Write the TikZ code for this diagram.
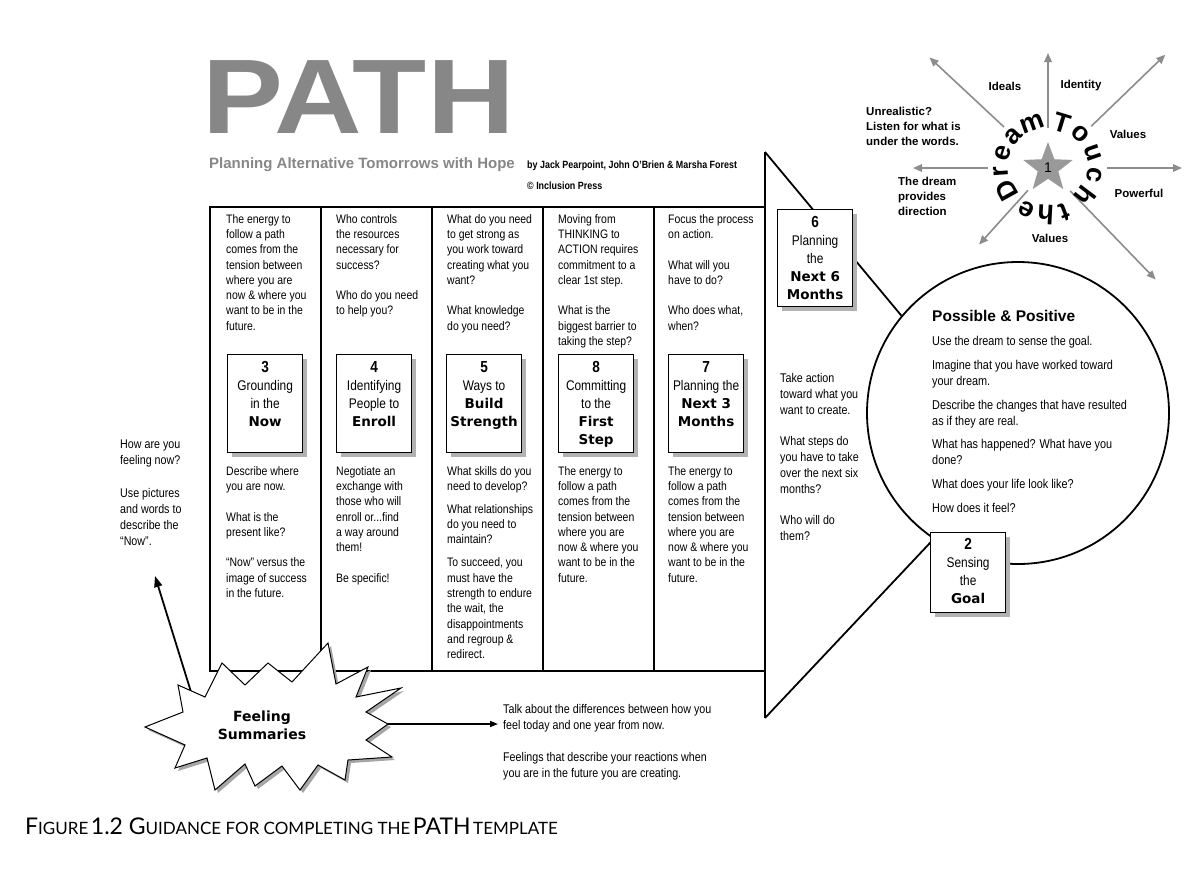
\documentclass[tikz,border=0pt]{standalone}
\usepackage{fontspec}
\setmainfont{Liberation Sans}
\newfontfamily\pthNar[FakeStretch=0.85]{Liberation Sans}
\newfontfamily\pthHeavy{DejaVu Sans}
\newfontfamily\pthCap{Lato}
\usetikzlibrary{arrows.meta,shapes.geometric,shadows}
\newcommand\pthNum{\pthNar\bfseries\fontsize{16}{18}\selectfont}
\newcommand\pthBig{\pthHeavy\bfseries\fontsize{13.5}{18}\selectfont}
\newcommand\pthCB[1]{{\fontsize{23}{23}\selectfont #1}}
\newcommand\pthCS[1]{{\fontsize{17}{23}\selectfont #1}}
\begin{document}
\begin{tikzpicture}[x=1pt,y=-1pt,
  colt/.style={anchor=north west, inner sep=0pt, align=left, font=\pthNar\fontsize{12.3}{15.3}\selectfont},
  sidet/.style={anchor=north west, inner sep=0pt, align=left, font=\pthNar\fontsize{12.6}{16}\selectfont},
  stepbox/.style={draw, line width=1.2pt, fill=white, minimum width=75pt, minimum height=98pt, inner sep=0pt, anchor=north west,
     drop shadow={shadow xshift=4pt, shadow yshift=-4pt, fill=black!30, opacity=1}},
  boxt/.style={anchor=north, inner sep=0pt, align=center, font=\pthNar\fontsize{14}{18}\selectfont},
  ray/.style={draw=black!45, line width=1.6pt, -{Triangle[length=9pt,width=7.5pt]}},
  dlab/.style={font=\bfseries\fontsize{11.5}{15}\selectfont, inner sep=0pt, align=left},
  dletter/.style={font=\bfseries\fontsize{27}{27}\selectfont, inner sep=0pt},
  frame/.style={line width=2pt},
  gtitle/.style={text=black!47, inner sep=0pt, anchor=base west}]
\path[use as bounding box, fill=white] (0,0) rectangle (1200,881);

% ---------- title ----------
\node[gtitle, font=\bfseries\fontsize{106}{106}\selectfont, xscale=1.145] (title) at (202,133) {PATH};
\node[gtitle, font=\bfseries\fontsize{15}{15}\selectfont] (sub) at (209,168) {Planning Alternative Tomorrows with Hope};
\node[anchor=base west, inner sep=0pt, font=\pthNar\bfseries\fontsize{10.5}{12}\selectfont] (auth) at (527,168) {by Jack Pearpoint, John O’Brien \& Marsha Forest};
\node[anchor=base west, inner sep=0pt, font=\pthNar\bfseries\fontsize{10.5}{12}\selectfont] (press) at (527,189) {© Inclusion Press};

% ---------- triangle ----------
\coordinate (apT) at (765,152);
\coordinate (apB) at (765,718);
\coordinate (upEnd) at (905,320);
\coordinate (loEnd) at (945,527);
\draw[frame] (apT) -- (apB);
\draw[line width=1.8pt] (apT) -- (upEnd);
\draw[line width=1.8pt] (apB) -- (loEnd);

% ---------- frame and columns ----------
\coordinate (fTL) at (210,207);
\coordinate (fBL) at (210,671);
\coordinate (fTR) at (765,207);
\coordinate (fBR) at (765,671);
\draw[frame] (fTR) -- (fTL) -- (fBL) -- (fBR);
\foreach \x [count=\i] in {321,432,543,654}{
  \coordinate (sT\i) at (\x,207);
  \coordinate (sB\i) at (\x,671);
  \draw[frame] (sT\i) -- (sB\i);
}

% top texts
\node[colt] (c1t) at (226,214) {The energy to\\follow a path\\comes from the\\tension between\\where you are\\now \& where you\\want to be in the\\future.};
\node[colt] (c2t) at (336,214) {Who controls\\the resources\\necessary for\\success?\\[15.3pt]Who do you need\\to help you?};
\node[colt] (c3t) at (447,214) {What do you need\\to get strong as\\you work toward\\creating what you\\want?\\[15.3pt]What knowledge\\do you need?};
\node[colt] (c4t) at (558,214) {Moving from\\THINKING to\\ACTION requires\\commitment to a\\clear 1st step.\\[15.3pt]What is the\\biggest barrier to\\taking the step?};
\node[colt] (c5t) at (668,214) {Focus the process\\on action.\\[15.3pt]What will you\\have to do?\\[15.3pt]Who does what,\\when?};

% bottom texts
\node[colt] (c1b) at (226,466) {Describe where\\you are now.\\[15.3pt]What is the\\present like?\\[15.3pt]“Now” versus the\\image of success\\in the future.};
\node[colt] (c2b) at (336,466) {Negotiate an\\exchange with\\those who will\\enroll or...find\\a way around\\them!\\[15.3pt]Be specific!};
\node[colt] (c3b) at (447,466) {What skills do you\\need to develop?\\[7.6pt]What relationships\\do you need to\\maintain?\\[7.6pt]To succeed, you\\must have the\\strength to endure\\the wait, the\\disappointments\\and regroup \&\\redirect.};
\node[colt] (c4b) at (558,466) {The energy to\\follow a path\\comes from the\\tension between\\where you are\\now \& where you\\want to be in the\\future.};
\node[colt] (c5b) at (668,466) {The energy to\\follow a path\\comes from the\\tension between\\where you are\\now \& where you\\want to be in the\\future.};

% step boxes
\node[stepbox] (b3) at (227,354) {};
\node[boxt] (t3) at ([yshift=-7pt]b3.north) {{\pthNum 3}\\Grounding\\in the\\{\pthBig Now}};
\node[stepbox] (b4) at (336,354) {};
\node[boxt] (t4) at ([yshift=-7pt]b4.north) {{\pthNum 4}\\Identifying\\People to\\{\pthBig Enroll}};
\node[stepbox] (b5) at (446,354) {};
\node[boxt] (t5) at ([yshift=-7pt]b5.north) {{\pthNum 5}\\Ways to\\{\pthBig Build}\\{\pthBig Strength}};
\node[stepbox] (b8) at (558,354) {};
\node[boxt] (t8) at ([yshift=-7pt]b8.north) {{\pthNum 8}\\Committing\\to the\\{\pthBig First}\\{\pthBig Step}};
\node[stepbox] (b7) at (668,354) {};
\node[boxt] (t7) at ([yshift=-7pt]b7.north) {{\pthNum 7}\\Planning the\\{\pthBig Next 3}\\{\pthBig Months}};

% ---------- circle ----------
\node[circle, draw, line width=1.8pt, fill=white, minimum size=302pt, inner sep=0pt] (goal) at (1018,413) {};
\node[anchor=base west, inner sep=0pt, font=\bfseries\fontsize{15.5}{16}\selectfont] (pp) at (932,321) {Possible \& Positive};
\node[sidet, font=\pthNar\fontsize{12.8}{16}\selectfont] (gt) at (932,336) {Use the dream to sense the goal.\\[7.8pt]Imagine that you have worked toward\\your dream.\\[7.8pt]Describe the changes that have resulted\\as if they are real.\\[7.8pt]What has happened? What have you\\done?\\[7.8pt]What does your life look like?\\[7.8pt]How does it feel?};

% box 6 and box 2
\node[stepbox, minimum height=97pt] (b6) at (777,209) {};
\node[boxt] (t6) at ([yshift=-7pt]b6.north) {{\pthNum 6}\\Planning\\the\\{\pthBig Next 6}\\{\pthBig Months}};
\node[stepbox, minimum height=80pt] (b2) at (930,532) {};
\node[boxt] (t2) at ([yshift=-6pt]b2.north) {{\pthNum 2}\\Sensing\\the\\{\pthBig Goal}};

\node[sidet] (c6) at (780,373) {Take action\\toward what you\\want to create.\\[15pt]What steps do\\you have to take\\over the next six\\months?\\[15pt]Who will do\\them?};

% ---------- dream ----------
\node[star, star points=5, star point ratio=2.4, fill=black!40, minimum size=52pt, inner sep=0pt] (st) at (1048,168) {};
\node[font=\fontsize{14}{14}\selectfont, inner sep=0pt] (one) at (st.center) {1};
\foreach \a/\ra/\rb [count=\i] in {90/40/115, 44/60/163, 0/59/134, -46/32/155, -132/30/103, 180/60/135, 137/60/162}{
  \coordinate (rs\i) at ([shift={(\a:\ra pt)}]st.center);
  \coordinate (re\i) at ([shift={(\a:\rb pt)}]st.center);
  \draw[ray] (rs\i) -- (re\i);
}
\foreach \l/\a [count=\i] in {D/209, r/184, e/162, a/137, m/110, T/73, o/47, u/19, c/-9, h/-37, t/-69, h/-93, e/-117}{
  \node[dletter, rotate=\a-90] (dl\i) at ([shift={(\a:47pt)}]st.center) {\l};
}
\node[dlab] (ideals) at (1005,86) {Ideals};
\node[dlab] (ident) at (1081,86) {Identity};
\node[dlab] (val1) at (1128,134) {Values};
\node[dlab] (pow) at (1139,193) {Powerful};
\node[dlab] (val2) at (1050,238) {Values};
\node[dlab, anchor=north west] (unreal) at (866,107) {Unrealistic?\\Listen for what is\\under the words.};
\node[dlab, anchor=north west] (dir) at (898,177) {The dream\\provides\\direction};

% ---------- left note ----------
\node[sidet] (now) at (120,440) {How are you\\feeling now?\\[17pt]Use pictures\\and words to\\describe the\\“Now”.};
\coordinate (nowTip) at (155,576);
\coordinate (fsL) at (196,708);
\draw[line width=1.8pt, -{Triangle[length=11pt,width=8pt]}] (fsL) -- (nowTip);

% ---------- burst ----------
\draw[fill=white, line width=1pt, drop shadow={shadow xshift=3pt, shadow yshift=-3pt, fill=black!35, opacity=1}]
  (268,663) -- (292,682) -- (328,643) -- (336,684) -- (368,667) -- (356,697) -- (401,688) -- (366,712)
  -- (388,724) -- (366,740) -- (392,757) -- (348,760) -- (345,780) -- (318,765) -- (300,790) -- (282,766)
  -- (255,786) -- (245,764) -- (215,790) -- (207,758) -- (175,768) -- (185,745) -- (145,727) -- (183,712)
  -- (178,685) -- (205,697) -- (222,663) -- (245,685) -- cycle;
\node[font=\pthHeavy\bfseries\fontsize{14}{18}\selectfont, align=center, inner sep=0pt] (fs) at (262,725) {Feeling\\Summaries};
\coordinate (fsR) at (388,724);
\node[sidet] (talk) at (503,704) {Talk about the differences between how you\\feel today and one year from now.\\[16pt]Feelings that describe your reactions when\\you are in the future you are creating.};
\coordinate (talkIn) at (498,724);
\draw[line width=1.5pt, -{Triangle[length=8pt,width=6pt]}] (fsR) -- (talkIn);

% ---------- caption ----------
\node[anchor=base west, inner sep=0pt, font=\pthCap] (cap) at (25,834)
  {\pthCB{F}\pthCS{IGURE} \pthCB{1.2 G}\pthCS{UIDANCE FOR COMPLETING THE} \pthCB{PATH} \pthCS{TEMPLATE}};
\end{tikzpicture}
\end{document}
